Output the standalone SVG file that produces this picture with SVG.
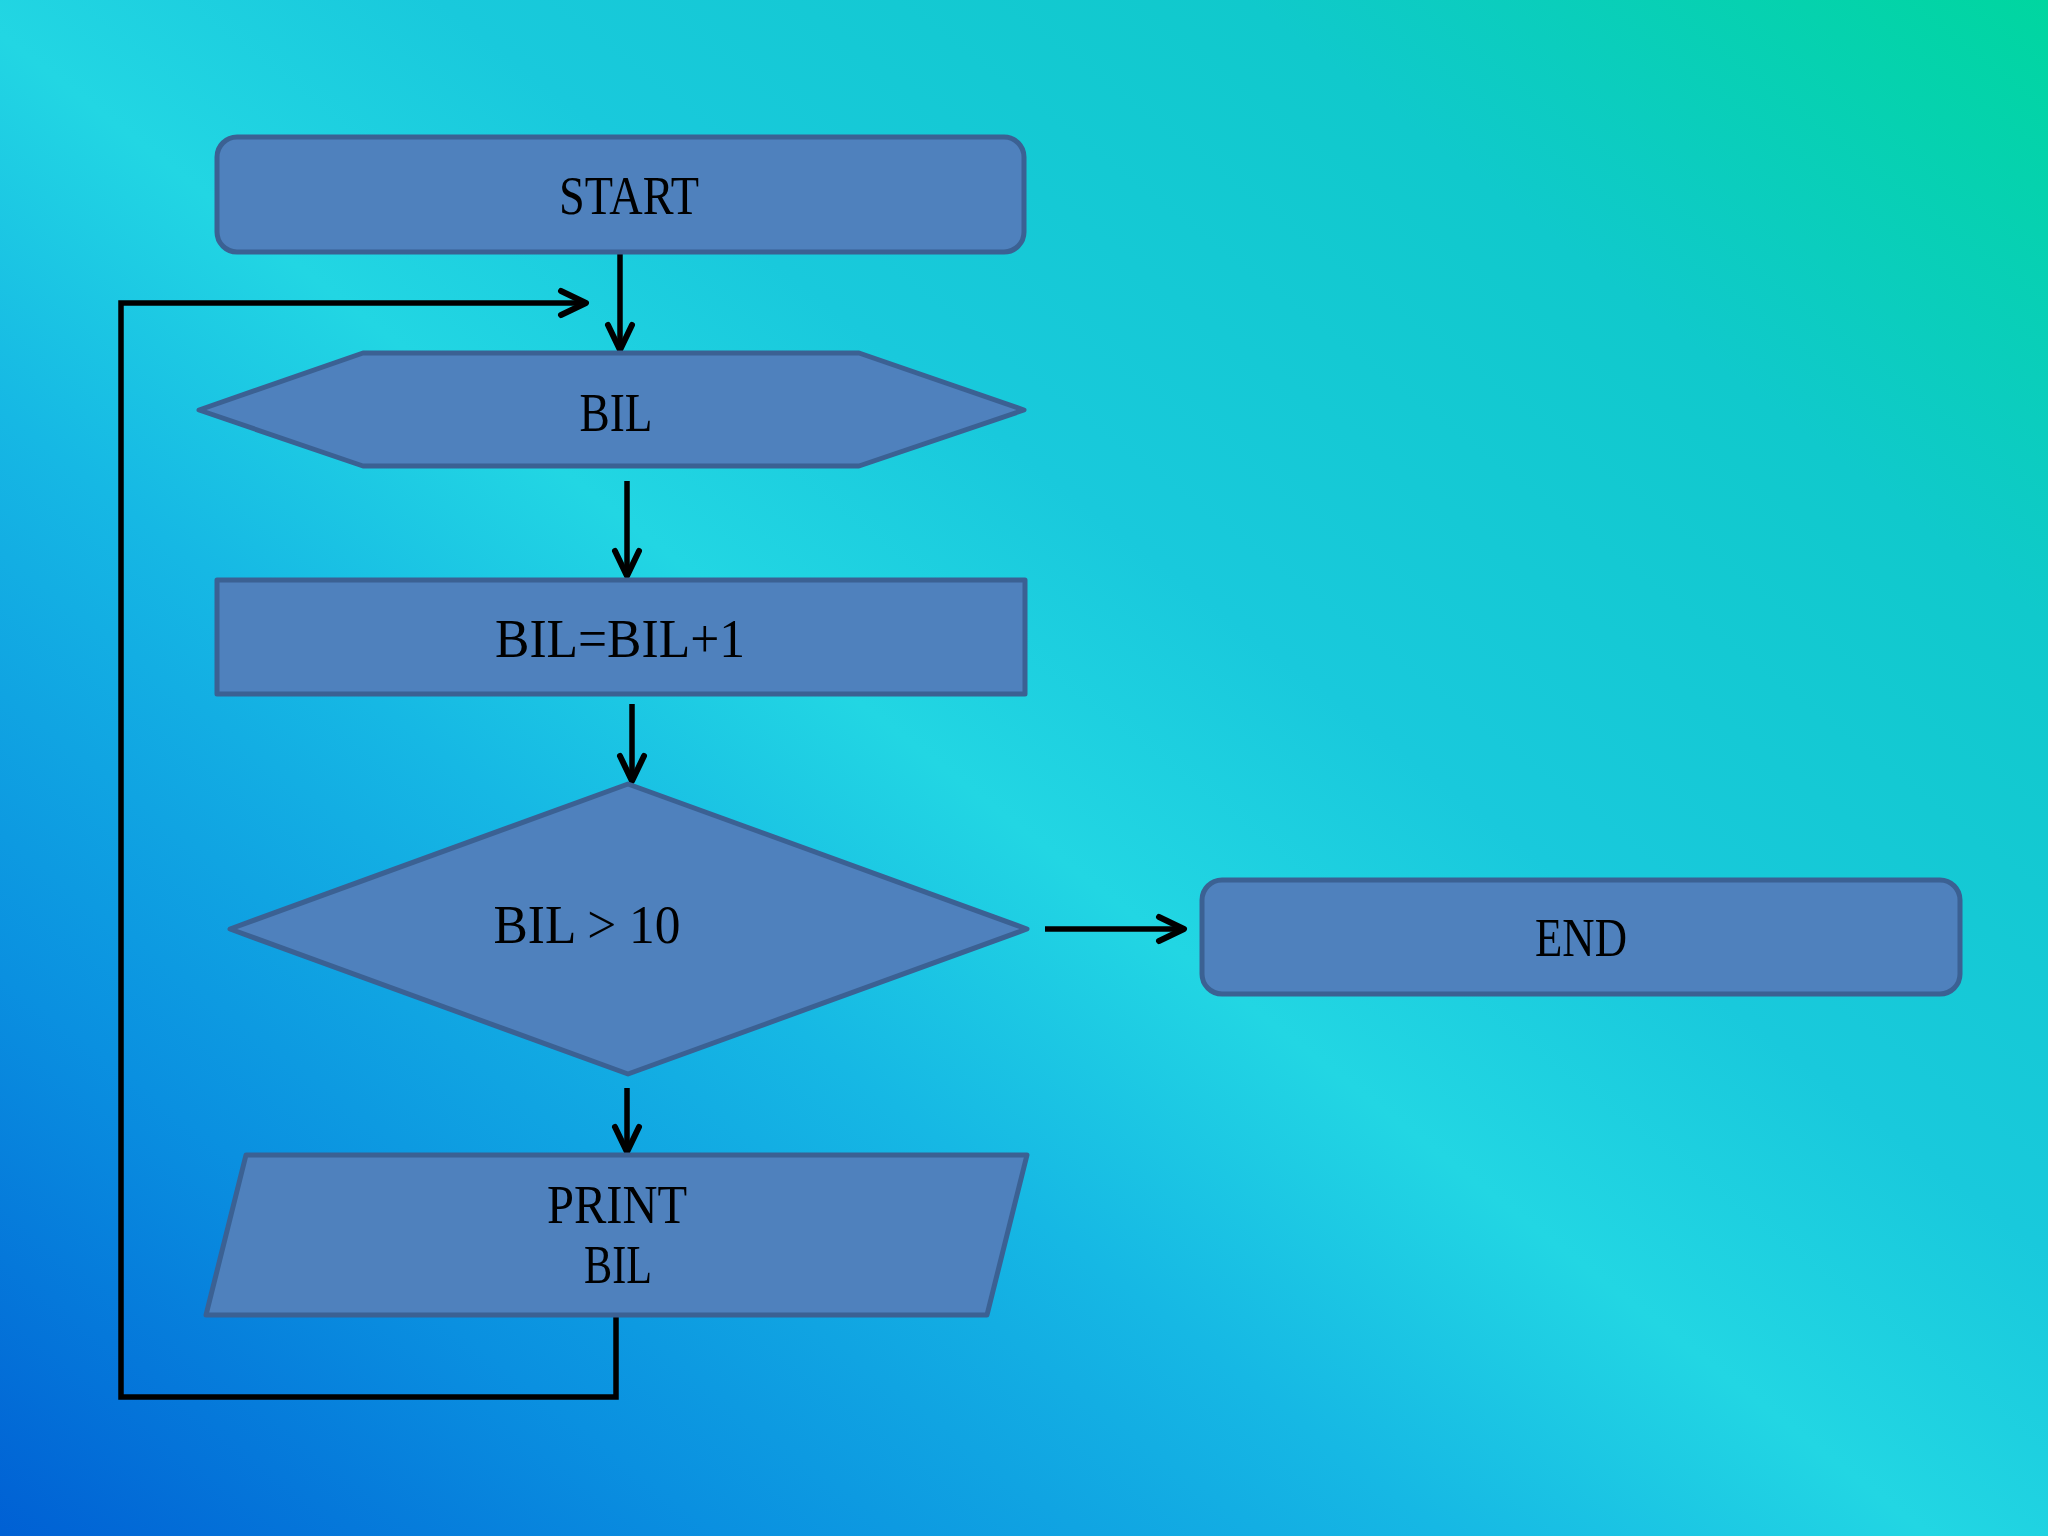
<svg xmlns="http://www.w3.org/2000/svg" width="2048" height="1536" viewBox="0 0 2048 1536">
<defs>
<linearGradient id="bg" gradientUnits="userSpaceOnUse" x1="354" y1="1811" x2="1870" y2="-138">
<stop offset="0" stop-color="#0060d4"/>
<stop offset="0.18" stop-color="#0a90e0"/>
<stop offset="0.36" stop-color="#16b8e4"/>
<stop offset="0.48" stop-color="#22d6e3"/>
<stop offset="0.6" stop-color="#19c9dc"/>
<stop offset="0.8" stop-color="#10c9cc"/>
<stop offset="1" stop-color="#00d6a0"/>
</linearGradient>
<marker id="arr" viewBox="-32 -16 36 32" refX="0" refY="0" markerWidth="36" markerHeight="32" orient="auto" markerUnits="userSpaceOnUse">
<path d="M-25,-12 L0,0 L-25,12" fill="none" stroke="#000" stroke-width="6" stroke-linecap="round" stroke-linejoin="round"/>
</marker>
<style>
.node{fill:#4f81bd;stroke:#3b6193;stroke-width:5;stroke-linejoin:round}
.lbl{font-family:"Liberation Serif","DejaVu Serif",serif;font-size:55px;fill:#000;text-anchor:middle}
.con{fill:none;stroke:#000;stroke-width:5.5}
</style>
</defs>
<rect x="0" y="0" width="2048" height="1536" fill="url(#bg)"/>
<g id="connectors">
<line class="con" x1="620" y1="252" x2="620" y2="350" marker-end="url(#arr)"/>
<polyline class="con" points="616,1315 616,1397 121,1397 121,303 586,303" marker-end="url(#arr)"/>
<line class="con" x1="627" y1="481" x2="627" y2="576" marker-end="url(#arr)"/>
<line class="con" x1="632" y1="704" x2="632" y2="781" marker-end="url(#arr)"/>
<line class="con" x1="627" y1="1088" x2="627" y2="1152" marker-end="url(#arr)"/>
<line class="con" x1="1045" y1="929" x2="1184" y2="929" marker-end="url(#arr)"/>
</g>
<g id="start">
<rect class="node" x="217" y="137" width="807" height="115" rx="20"/>
<text class="lbl" x="629" y="214" textLength="140" lengthAdjust="spacingAndGlyphs">START</text>
</g>
<g id="bil-init">
<polygon class="node" points="199,410 363,353 859,353 1024,410 859,466 363,466"/>
<text class="lbl" x="616" y="431" textLength="73" lengthAdjust="spacingAndGlyphs">BIL</text>
</g>
<g id="increment">
<rect class="node" x="217" y="580" width="808" height="114"/>
<text class="lbl" x="620" y="657" textLength="250" lengthAdjust="spacingAndGlyphs">BIL=BIL+1</text>
</g>
<g id="decision">
<polygon class="node" points="230,929 628,784 1027,929 628,1074"/>
<text class="lbl" x="587" y="943" textLength="187" lengthAdjust="spacingAndGlyphs">BIL &gt; 10</text>
</g>
<g id="end">
<rect class="node" x="1202" y="880" width="758" height="114" rx="20"/>
<text class="lbl" x="1581" y="956" textLength="92" lengthAdjust="spacingAndGlyphs">END</text>
</g>
<g id="print">
<polygon class="node" points="246,1155 1027,1155 987,1315 206,1315"/>
<text class="lbl" x="617" y="1223" textLength="140" lengthAdjust="spacingAndGlyphs">PRINT</text>
<text class="lbl" x="618" y="1283" textLength="68" lengthAdjust="spacingAndGlyphs">BIL</text>
</g>
</svg>
